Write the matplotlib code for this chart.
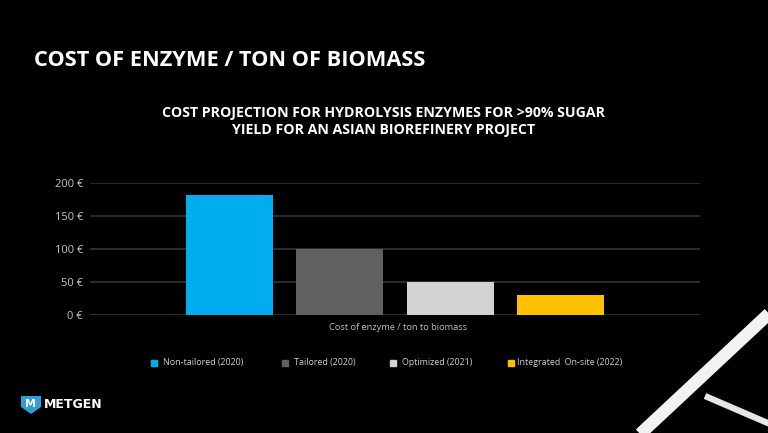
import matplotlib
matplotlib.use("Agg")
import matplotlib.pyplot as plt
from matplotlib.patches import Polygon, Rectangle
from matplotlib.lines import Line2D

series = ["Non-tailored (2020)", "Tailored (2020)", "Optimized (2021)", "Integrated  On-site (2022)"]
values = [182, 100, 50, 30]
colors = ["#00ADEF", "#606060", "#D2D2D2", "#FFC000"]
yticks = [0, 50, 100, 150, 200]
ytick_labels = ["0 €", "50 €", "100 €", "150 €", "200 €"]
category = "Cost of enzyme / ton to biomass"

W, H = 768, 433
fig = plt.figure(figsize=(W / 100, H / 100), dpi=100, facecolor="black")
font = "Open Sans"

def fx(px):
    return px / W

def fy(py):
    return 1 - py / H

ax = fig.add_axes([fx(90), fy(315), fx(700) - fx(90), fy(183) - fy(315)])
ax.set_facecolor("black")
x = list(range(len(values)))
ax.bar(x, values, width=0.787, color=colors, zorder=3)
ax.set_xlim(1.5 - 2.76, 1.5 + 2.76)
ax.set_ylim(0, 200)
ax.set_yticks(yticks)
ax.set_yticklabels(ytick_labels, color="#C4C4C4", fontsize=8, family=font)
ax.tick_params(axis="y", length=0, pad=5)
ax.set_xticks([])
for s in ax.spines.values():
    s.set_visible(False)
ax.yaxis.grid(True, color="#30353D", linewidth=1.2, zorder=0)
ax.set_axisbelow(True)

fig.text(fx(398), fy(327), category, ha="center", va="center", color="#BDBDBD",
         fontsize=6.7, family=font)

# Legend
leg_marker_x = [153.5, 285, 392.5, 510.5]
leg_text_x = [163, 294, 402, 517]
for mx, tx, lab, col in zip(leg_marker_x, leg_text_x, series, colors):
    fig.patches.append(Rectangle((fx(mx - 3), fy(366)), fx(6), fy(360) - fy(366),
                                 transform=fig.transFigure, color=col))
    fig.text(fx(tx), fy(362.5), lab, ha="left", va="center", color="#CFCFCF",
             fontsize=6.4, family=font)

# Titles
fig.text(fx(34), fy(60), "COST OF ENZYME / TON OF BIOMASS", ha="left", va="center",
         color="white", fontsize=15.7, fontweight="bold", family=font)
fig.text(fx(384), fy(113), "COST PROJECTION FOR HYDROLYSIS ENZYMES FOR >90% SUGAR",
         ha="center", va="center", color="white", fontsize=10.15, fontweight="bold", family=font)
fig.text(fx(384), fy(130), "YIELD FOR AN ASIAN BIOREFINERY PROJECT",
         ha="center", va="center", color="white", fontsize=10.15, fontweight="bold", family=font)

# Logo
shield = Polygon([(fx(21), fy(396)), (fx(41), fy(396)), (fx(41), fy(407)),
                  (fx(31), fy(414)), (fx(21), fy(407))], closed=True,
                 transform=fig.transFigure, facecolor="#2A9FD8", edgecolor="none")
fig.patches.append(shield)
fig.text(fx(31), fy(404), "M", ha="center", va="center", color="white", fontsize=8,
         fontweight="bold", family="DejaVu Sans")
fig.text(fx(44), fy(404), "METGEN", ha="left", va="center", color="white", fontsize=9,
         fontweight="bold", family="DejaVu Sans")

# Decorative light tubes
fig.lines.append(Line2D([fx(638), fx(775)], [fy(436), fy(308)], transform=fig.transFigure,
                        color="#F2F2F2", linewidth=9, solid_capstyle="butt"))
fig.lines.append(Line2D([fx(705), fx(770)], [fy(396), fy(424)], transform=fig.transFigure,
                        color="#E6E6E6", linewidth=4.5, solid_capstyle="butt"))

fig.savefig("out.png", dpi=100, facecolor="black")
